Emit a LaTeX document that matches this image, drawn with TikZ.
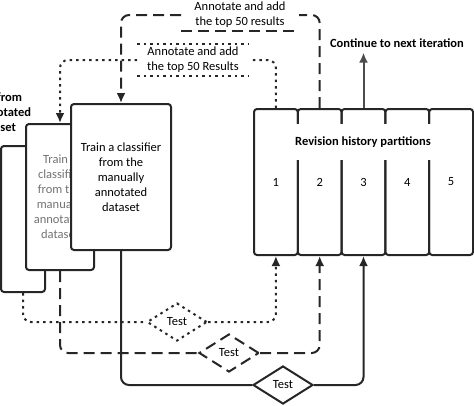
\documentclass[tikz,border=0pt]{standalone}
\usepackage{fontspec}
\setmainfont{Carlito}
\usetikzlibrary{shapes.geometric,arrows.meta}
\begin{document}
\begin{tikzpicture}[x=1pt,y=-1pt,line width=2pt,draw=black!85,
  >={Latex[length=10pt,width=9pt]}]

\tikzstyle{trainbox}=[shape=rectangle, rounded corners=3pt,
    draw, fill=white, align=center,
    minimum height=146pt, inner sep=0pt]
\tikzstyle{part}=[shape=rectangle, rounded corners=3pt,
    draw, minimum width=43.8pt, minimum height=146pt]
\tikzstyle{test}=[shape=diamond, draw, fill=white,
    minimum width=60pt, minimum height=38pt, inner sep=1pt]
\tikzstyle{annot}=[fill=white, align=center, inner xsep=3pt, inner ysep=2pt]
\tikzstyle{dotline}=[dash pattern=on 2.5pt off 4pt]
\tikzstyle{dashline}=[dash pattern=on 11pt off 6pt]
  \fontsize{12.5}{15}\selectfont
  \useasboundingbox (0,0) rectangle (474,405);

  % revision history
  \foreach \i in {1,...,5}
    \node[part] (p\i) at (232.1+43.8*\i,182) {\i};
  \node[fill=white, font=\bfseries, minimum width=144pt, minimum height=36pt] (title) at (363,142) {Revision history partitions};

  % classifiers
  \node[trainbox, minimum width=44pt] (box3) at (23,219) {};
  \node[trainbox, minimum width=68pt, text=black!55] (box2) at (60,197) {Train a\\classifier\\from the\\manually\\annotated\\dataset};
  \node[trainbox, minimum width=100pt] (box1) at (121,177) {Train a classifier\\from the\\manually\\annotated\\dataset};
  \node[font=\bfseries, align=right, anchor=east, inner sep=0pt] (prev) at (32,112) {from\kern9pt\\annotated\\dataset\kern15pt};

  \node[annot, minimum width=110pt] (add1) at (193,60) {Annotate and add\\the top 50 Results};
  \node[annot, minimum width=116pt] (add2) at (240,15) {Annotate and add\\the top 50 results};
  \draw[dotline] (add1.north west) -- (add1.north east);
  \draw[dotline] (add1.south west) -- (add1.south east);
  \draw[dashline] (add2.north west) -- (add2.north east);
  \draw[dashline] (add2.south west) -- (add2.south east);

  \node[test, dotline] (test1) at (177,322) {Test};
  \node[test, dashline] (test2) at (229,353) {Test};
  \node[test] (test3) at (283,385) {Test};

  \node[font=\bfseries] (next) at (397,43) {Continue to next iteration};

  % tests
  \draw[dotline, rounded corners=8pt] (box3.south) |- (test1.west);
  \draw[dotline, rounded corners=8pt, ->] (test1.east) -| (p1.south);
  \draw[dashline, rounded corners=8pt] (box2.south) |- (test2.west);
  \draw[dashline, rounded corners=8pt, ->] (test2.east) -| (p2.south);
  \draw[rounded corners=8pt] (box1.south) |- (test3.west);
  \draw[rounded corners=8pt, ->] (test3.east) -| (p3.south);

  % annotate
  \draw[dotline, rounded corners=8pt] (p1.north) |- (add1.east);
  \draw[dotline, rounded corners=8pt, ->] (add1.west) -| (box2.north);
  \draw[dashline, rounded corners=8pt] (p2.north) |- (add2.east);
  \draw[dashline, rounded corners=8pt, ->] (add2.west) -| (box1.north);

  \draw[->, black!70] (p3.north) -- (p3.north |- next.south);

\end{tikzpicture}
\end{document}
